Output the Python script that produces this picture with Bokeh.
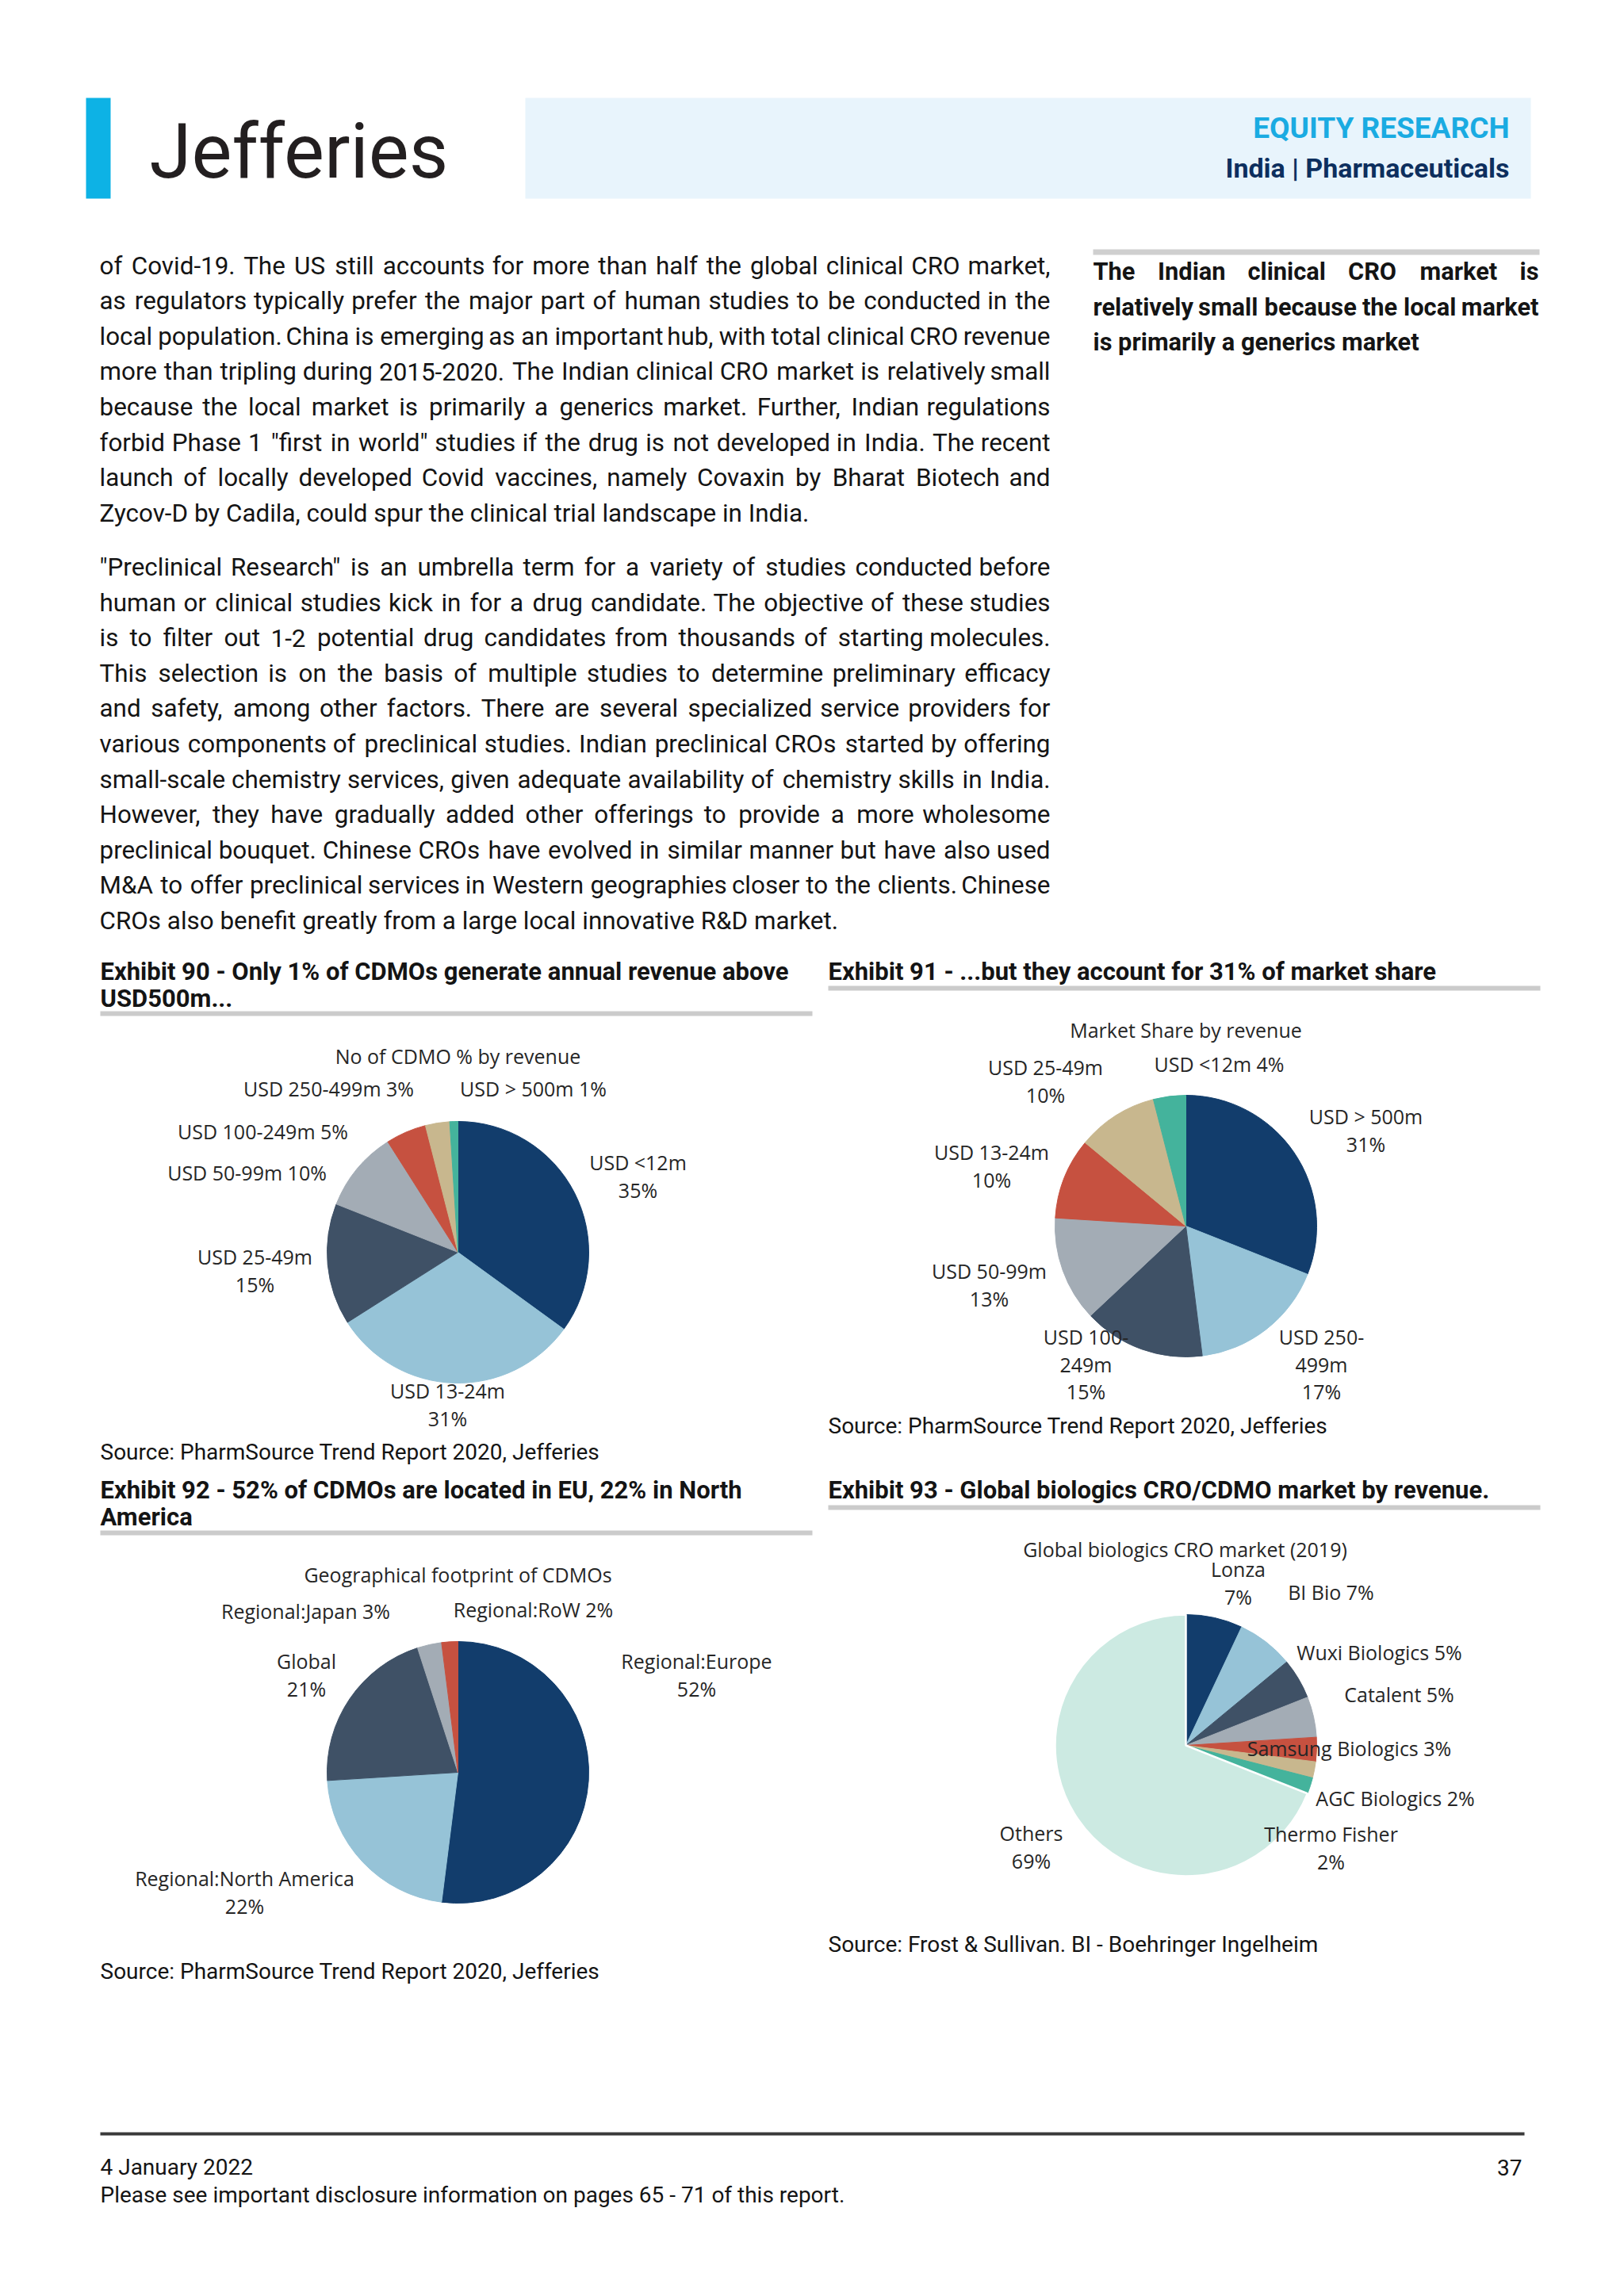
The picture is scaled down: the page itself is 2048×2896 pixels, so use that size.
import math
from bokeh.plotting import figure
from bokeh.models import Range1d
from bokeh.core.properties import value
from bokeh.embed import file_html
from bokeh.resources import INLINE

# ---------------- data ----------------
ex90_categories = ["USD <12m", "USD 13-24m", "USD 25-49m", "USD 50-99m",
                   "USD 100-249m", "USD 250-499m", "USD > 500m"]
ex90_values = [35, 31, 15, 10, 5, 3, 1]

ex91_categories = ["USD > 500m", "USD 250-499m", "USD 100-249m", "USD 50-99m",
                   "USD 13-24m", "USD 25-49m", "USD <12m"]
ex91_values = [31, 17, 15, 13, 10, 10, 4]

ex92_categories = ["Regional:Europe", "Regional:North America", "Global",
                   "Regional:Japan", "Regional:RoW"]
ex92_values = [52, 22, 21, 3, 2]

ex93_categories = ["Lonza", "BI Bio", "Wuxi Biologics", "Catalent",
                   "Samsung Biologics", "AGC Biologics", "Thermo Fisher", "Others"]
ex93_values = [7, 7, 5, 5, 3, 2, 2, 69]

chart_titles = ["No of CDMO % by revenue", "Market Share by revenue",
                "Geographical footprint of CDMOs", "Global biologics CRO market (2019)"]

exhibit_titles = [
    ["Exhibit 90 - Only 1% of CDMOs generate annual revenue above", "USD500m..."],
    ["Exhibit 91 - ...but they account for 31% of market share"],
    ["Exhibit 92 - 52% of CDMOs are located in EU, 22% in North", "America"],
    ["Exhibit 93 - Global biologics CRO/CDMO market by revenue."],
]
sources = ["Source: PharmSource Trend Report 2020, Jefferies",
           "Source: PharmSource Trend Report 2020, Jefferies",
           "Source: PharmSource Trend Report 2020, Jefferies",
           "Source: Frost & Sullivan. BI - Boehringer Ingelheim"]

para1 = [
    "of Covid-19. The US still accounts for more than half the global clinical CRO market,",
    "as regulators typically prefer the major part of human studies to be conducted in the",
    "local population. China is emerging as an important hub, with total clinical CRO revenue",
    "more than tripling during 2015-2020. The Indian clinical CRO market is relatively small",
    "because the local market is primarily a generics market. Further, Indian regulations",
    "forbid Phase 1 \"first in world\" studies if the drug is not developed in India. The recent",
    "launch of locally developed Covid vaccines, namely Covaxin by Bharat Biotech and",
    "Zycov-D by Cadila, could spur the clinical trial landscape in India.",
]
para2 = [
    "\"Preclinical Research\" is an umbrella term for a variety of studies conducted before",
    "human or clinical studies kick in for a drug candidate. The objective of these studies",
    "is to filter out 1-2 potential drug candidates from thousands of starting molecules.",
    "This selection is on the basis of multiple studies to determine preliminary efficacy",
    "and safety, among other factors. There are several specialized service providers for",
    "various components of preclinical studies. Indian preclinical CROs started by offering",
    "small-scale chemistry services, given adequate availability of chemistry skills in India.",
    "However, they have gradually added other offerings to provide a more wholesome",
    "preclinical bouquet. Chinese CROs have evolved in similar manner but have also used",
    "M&A to offer preclinical services in Western geographies closer to the clients. Chinese",
    "CROs also benefit greatly from a large local innovative R&D market.",
]
sidebar = ["The Indian clinical CRO market is",
           "relatively small because the local market",
           "is primarily a generics market"]

# ---------------- styles ----------------
NAVY, LBLUE, SLATE, GREY = "#123D6C", "#96C3D7", "#3F5166", "#A3ACB5"
RED, TAN, TEAL, MINT = "#C65140", "#C8B78E", "#44B39C", "#CCEAE2"
TXT = "#141414"
LBL = "#262626"

W_FIG, H_FIG = 2032, 2880
p = figure(width=W_FIG, height=H_FIG,
           x_range=Range1d(0, W_FIG), y_range=Range1d(-H_FIG, 0),
           output_backend="svg", toolbar_location=None, min_border=0,
           x_axis_location=None, y_axis_location=None)
p.grid.visible = False
p.outline_line_color = None
p.background_fill_color = "white"
p.border_fill_color = "white"

# Roboto advance widths (units per em 2048), used to justify paragraph lines
RW = {" ": 507, "!": 482, '"': 639, "%": 1466, "&": 1243, "'": 349, "(": 684, ")": 696,
      ",": 393, "-": 552, ".": 527, "/": 824, ":": 485, ";": 434, "|": 499,
      "A": 1336, "B": 1275, "C": 1333, "D": 1343, "E": 1164, "F": 1132, "G": 1395,
      "H": 1460, "I": 557, "J": 1130, "K": 1284, "L": 1102, "M": 1788, "N": 1460,
      "O": 1408, "P": 1292, "Q": 1408, "R": 1261, "S": 1218, "T": 1222, "U": 1328,
      "V": 1303, "W": 1817, "X": 1284, "Y": 1230, "Z": 1226,
      "a": 1088, "b": 1122, "c": 1046, "d": 1126, "e": 1058, "f": 693, "g": 1120,
      "h": 1101, "i": 486, "j": 477, "k": 1013, "l": 486, "m": 1753, "n": 1104,
      "o": 1140, "p": 1122, "q": 1131, "r": 677, "s": 1032, "t": 655, "u": 1101,
      "v": 968, "w": 1502, "x": 991, "y": 946, "z": 991}
# Roboto Bold lowercase advance widths
RWB = {"a": 1094, "b": 1124, "c": 1058, "d": 1128, "e": 1082, "f": 712, "g": 1134,
       "h": 1114, "i": 524, "j": 515, "k": 1062, "l": 524, "m": 1766, "n": 1114,
       "o": 1140, "p": 1124, "q": 1124, "r": 716, "s": 1054, "t": 681, "u": 1114,
       "v": 1009, "w": 1476, "x": 1024, "y": 987, "z": 1024, " ": 495,
       "T": 1236, "I": 575, "C": 1340, "R": 1280, "O": 1410}


def tw(s, size, bold=False):
    if bold:
        units = sum(RWB.get(c, RW.get(c, 1150) * 1.03) for c in s)
    else:
        units = sum(RW.get(c, 1150) for c in s)
    return units / 2048.0 * size


def add_text(xs, ys, texts, size, font="Roboto", style="normal", color=TXT,
             align="left", baseline="middle"):
    p.text(x=xs, y=[-y for y in ys], text=texts, text_font=value(font),
           text_font_size=value(f"{size}px"), text_font_style=style,
           text_color=color, text_align=align, text_baseline=baseline)


def paragraph(lines, x0, x1, y0, dy, size, bold=False, last_justified=False):
    lx, ly, lt, rx, ry, rt = [], [], [], [], [], []
    for k, line in enumerate(lines):
        y = y0 + k * dy
        words = line.split(" ")
        justify = (k < len(lines) - 1) or last_justified
        if not justify or len(words) == 1:
            lx.append(x0); ly.append(y); lt.append(line)
            continue
        ws = [tw(w, size, bold) for w in words]
        gap = max((x1 - x0 - sum(ws)) / (len(words) - 1), 0.22 * size)
        x = x0
        for i, w in enumerate(words[:-1]):
            lx.append(x); ly.append(y); lt.append(w)
            x += ws[i] + gap
        rx.append(x1); ry.append(y); rt.append(words[-1])
    style = "bold" if bold else "normal"
    add_text(lx, ly, lt, size, style=style)
    add_text(rx, ry, rt, size, style=style, align="right")


def box(l, r, t, b, color):
    p.quad(left=[l], right=[r], top=[-t], bottom=[-b], fill_color=color,
           line_color=None)


# ---------------- header ----------------
box(108, 139, 123, 250, "#0DB2E5")
box(662, 1930, 123, 250, "#E8F4FC")
add_text([188], [190], ["Jefferies"], 96, color="#231F20")
add_text([1903], [161], ["EQUITY RESEARCH"], 37, style="bold", color="#1AABE2", align="right")
add_text([1903], [211], ["India | Pharmaceuticals"], 34, style="bold", color="#0D2F5E", align="right")

# ---------------- body text ----------------
paragraph(para1, 125, 1324, 334.5, 44.6, 31.4)
paragraph(para2, 125, 1324, 715, 44.6, 31.4)
box(1378, 1941, 314, 321, "#CFCFCF")
paragraph(sidebar, 1378, 1940, 342, 44.5, 30.8, bold=True)

# ---------------- exhibit titles, rules, sources ----------------
title_pos = [(126, 1225), (1044, 1225), (126, 1879), (1044, 1879)]
rule_pos = [(126, 1024, 1275, 1281), (1044, 1942, 1243, 1249),
            (126, 1024, 1930, 1936), (1044, 1942, 1898, 1904)]
source_pos = [(126, 1831), (1044, 1798), (126, 2486), (1044, 2452)]
for lines, (tx, ty), (rl, rr, rt, rb), src, (sx, sy) in zip(
        exhibit_titles, title_pos, rule_pos, sources, source_pos):
    add_text([tx] * len(lines), [ty + 33.5 * i for i in range(len(lines))], lines,
             31, style="bold")
    box(rl, rr, rt, rb, "#CBCBCB")
    add_text([sx], [sy], [src], 28)


# ---------------- pies ----------------
def pie(cx, cy, r, values, colors, outline=None):
    total = float(sum(values))
    starts, ends, cum = [], [], 0.0
    for v in values:
        starts.append(math.pi / 2 - 2 * math.pi * cum / total)
        cum += v
        ends.append(math.pi / 2 - 2 * math.pi * cum / total)
    lc = outline if outline is not None else colors
    lw = [2.5 if outline is not None and outline[i] == "white" else 1
          for i in range(len(values))]
    p.wedge(x=[cx] * len(values), y=[-cy] * len(values), radius=r,
            start_angle=starts, end_angle=ends, direction="clock",
            fill_color=colors, line_color=lc, line_width=lw)


def labels(texts, positions, size=25, gap=34.5):
    xs, ys, ts = [], [], []
    for t, (x, y) in zip(texts, positions):
        parts = t.split("\n")
        n = len(parts)
        for i, part in enumerate(parts):
            xs.append(x)
            ys.append(y + (i - (n - 1) / 2.0) * gap)
            ts.append(part)
    add_text(xs, ys, ts, size, font="Open Sans", color=LBL, align="center")


def fmt(cat, v, sep, wrapped=None):
    name = wrapped if wrapped else cat
    return f"{name}{sep}{v}%"


# Exhibit 90
pie(577, 1579, 165, ex90_values, [NAVY, LBLUE, SLATE, GREY, RED, TAN, TEAL])
ex90_seps = ["\n", "\n", "\n", " ", " ", " ", " "]
labels([chart_titles[0]] + [fmt(c, v, s) for c, v, s in zip(ex90_categories, ex90_values, ex90_seps)],
       [(577, 1331), (804, 1483), (564, 1771), (321, 1602), (311, 1478),
        (331, 1426), (414, 1372), (672, 1372)])

# Exhibit 91
pie(1495, 1546, 165, ex91_values, [NAVY, LBLUE, SLATE, GREY, RED, TAN, TEAL])
ex91_seps = ["\n", "\n", "\n", "\n", "\n", "\n", " "]
ex91_wrap = [None, "USD 250-\n499m", "USD 100-\n249m", None, None, None, None]
labels([chart_titles[1]] + [fmt(c, v, s, w) for c, v, s, w in
                            zip(ex91_categories, ex91_values, ex91_seps, ex91_wrap)],
       [(1495, 1298), (1722, 1425), (1666, 1720), (1369, 1720), (1247, 1620),
        (1250, 1470), (1318, 1363), (1537, 1341)])

# Exhibit 92
pie(577, 2235, 165, ex92_values, [NAVY, LBLUE, SLATE, GREY, RED])
ex92_seps = ["\n", "\n", "\n", " ", " "]
labels([chart_titles[2]] + [fmt(c, v, s) for c, v, s in zip(ex92_categories, ex92_values, ex92_seps)],
       [(577, 1985), (878, 2112), (308, 2386), (386, 2112), (385, 2031), (672, 2029)])

# Exhibit 93
pie(1495, 2201, 165, ex93_values, [NAVY, LBLUE, SLATE, GREY, RED, TAN, TEAL, MINT],
    outline=[NAVY, LBLUE, SLATE, GREY, RED, TAN, TEAL, "white"])
ex93_seps = ["\n", " ", " ", " ", " ", " ", "\n", "\n"]
labels([chart_titles[3]] + [fmt(c, v, s) for c, v, s in zip(ex93_categories, ex93_values, ex93_seps)],
       [(1494, 1953), (1561, 1996), (1678, 2007), (1739, 2083), (1764, 2136),
        (1701, 2204), (1759, 2267), (1678, 2330), (1300, 2329)])

# ---------------- footer ----------------
box(126, 1922, 2689, 2693, "#3A3A3A")
add_text([126], [2733], ["4 January 2022"], 28)
add_text([126], [2768], ["Please see important disclosure information on pages 65 - 71 of this report."], 28)
add_text([1919], [2733], ["37"], 28, align="right")

open("out.html", "w").write(file_html(p, INLINE))
